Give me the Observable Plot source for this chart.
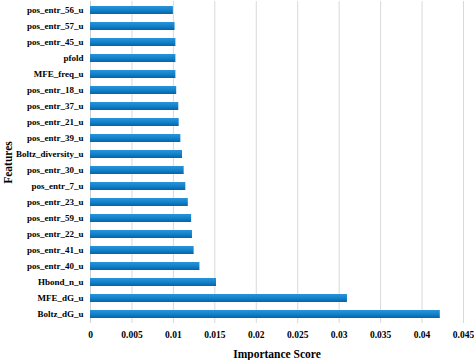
<!DOCTYPE html>
<html>
<head>
<meta charset="utf-8">
<script src="https://cdn.jsdelivr.net/npm/d3@7"></script>
<script src="https://cdn.jsdelivr.net/npm/@observablehq/plot@0.6"></script>
<style>
  body { margin: 0; background: #fff; }
  #chart svg { display: block; }
  #chart svg, #chart svg text { font-family: "Liberation Serif", "Times New Roman", serif !important; font-weight: bold; }
</style>
</head>
<body>
<div id="chart"></div>
<script>
// Feature names, top to bottom
const features = [
  "pos_entr_56_u", "pos_entr_57_u", "pos_entr_45_u", "pfold", "MFE_freq_u",
  "pos_entr_18_u", "pos_entr_37_u", "pos_entr_21_u", "pos_entr_39_u", "Boltz_diversity_u",
  "pos_entr_30_u", "pos_entr_7_u", "pos_entr_23_u", "pos_entr_59_u", "pos_entr_22_u",
  "pos_entr_41_u", "pos_entr_40_u", "Hbond_n_u", "MFE_dG_u", "Boltz_dG_u"
];
// Importance score for each feature (same order)
const scores = [
  0.0100, 0.0102, 0.0103, 0.0103, 0.0103,
  0.0104, 0.01065, 0.0107, 0.0109, 0.0111,
  0.0113, 0.0115, 0.0118, 0.0122, 0.0123,
  0.0125, 0.0132, 0.0152, 0.0310, 0.0422
];
// X axis ticks
const xTicks = [0, 0.005, 0.01, 0.015, 0.02, 0.025, 0.03, 0.035, 0.04, 0.045];
const xTickLabels = ["0", "0.005", "0.01", "0.015", "0.02", "0.025", "0.03", "0.035", "0.04", "0.045"];

const rows = features.map((f, i) => ({feature: f, score: scores[i]}));

const chart = Plot.plot({
  width: 474,
  height: 360,
  marginLeft: 90,
  marginRight: 11,
  marginTop: 1,
  marginBottom: 37,
  style: {color: "#000", background: "#fff", fontFamily: "Liberation Serif"},
  x: {domain: [0, 0.045]},
  y: {domain: features, paddingInner: 0.5, paddingOuter: 0.25},
  marks: [
    Plot.gridX(xTicks, {stroke: "#d9d9d9", strokeOpacity: 1, strokeWidth: 1}),
    Plot.ruleX([0], {stroke: "#d0d0d0"}),
    Plot.ruleY([0], {frameAnchor: "bottom", stroke: "#d9d9d9"}),
    Plot.barX(rows, {x: "score", y: "feature", fill: "url(#barGrad)"}),
    Plot.axisX({
      ticks: xTicks,
      tickSize: 0,
      tickPadding: 8,
      fontSize: 9.5,
      tickFormat: (d) => xTickLabels[xTicks.indexOf(d)],
      label: "Importance Score",
      labelAnchor: "center",
      labelArrow: "none",
      labelOffset: 34
    }),
    Plot.axisY({
      tickSize: 0,
      tickPadding: 7,
      fontSize: 9,
      label: "Features",
      labelAnchor: "center",
      labelArrow: "none",
      labelOffset: 87
    })
  ]
});

// Bar shading: lighter top, darker bottom edge
const ns = "http://www.w3.org/2000/svg";
const defs = document.createElementNS(ns, "defs");
defs.innerHTML = `
  <linearGradient id="barGrad" x1="0" y1="0" x2="0" y2="1">
    <stop offset="0" stop-color="#2a93d8"/>
    <stop offset="0.55" stop-color="#1180c9"/>
    <stop offset="1" stop-color="#0a62a3"/>
  </linearGradient>`;
chart.insertBefore(defs, chart.firstChild);

// Axis titles a little larger than tick labels
chart.querySelectorAll("[aria-label='x-axis label'] text, [aria-label='y-axis label'] text").forEach(t => {
  t.setAttribute("font-size", "11.5");
});

document.getElementById("chart").appendChild(chart);
</script>
</body>
</html>
